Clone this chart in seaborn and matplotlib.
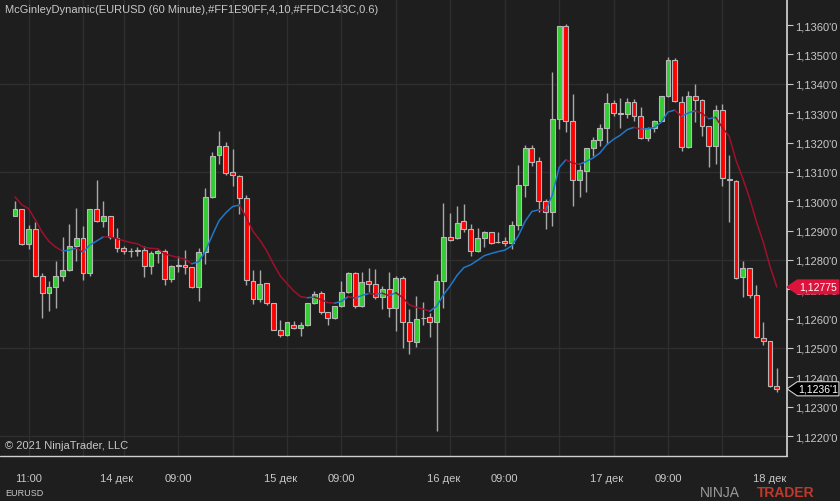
import numpy as np
import pandas as pd
import matplotlib
matplotlib.use("Agg")
import matplotlib.pyplot as plt
from matplotlib.patches import Polygon
import seaborn as sns

# ---- data (EURUSD 60 min) ----
opens = [1.12950,1.12974,1.12855,1.12906,1.12746,1.12688,1.12708,1.12746,1.12766,1.12848,
         1.12875,1.12756,1.12974,1.12933,1.12950,1.12875,1.12841,1.12831,1.12831,1.12834,
         1.12780,1.12824,1.12831,1.12735,1.12780,1.12783,1.12776,1.12708,1.12827,1.13015,
         1.13158,1.13188,1.13100,1.13086,1.13011,1.12729,1.12667,1.12722,1.12654,1.12562,
         1.12545,1.12579,1.12568,1.12579,1.12654,1.12688,1.12623,1.12603,1.12643,1.12691,
         1.12756,1.12643,1.12729,1.12718,1.12674,1.12701,1.12637,1.12739,1.12589,1.12521,
         1.12603,1.12606,1.12589,1.12729,1.12878,1.12875,1.12933,1.12906,1.12831,1.12875,
         1.12895,1.12861,1.12865,1.12858,1.12919,1.13056,1.13182,1.13137,1.13000,1.12964,
         1.13280,1.13597,1.13274,1.13073,1.13103,1.13182,1.13209,1.13250,1.13335,1.13301,
         1.13297,1.13338,1.13291,1.13216,1.13250,1.13274,1.13359,1.13481,1.13338,1.13185,
         1.13359,1.13345,1.13256,1.13188,1.13311,1.13076,1.13069,1.12742,1.12773,1.12681,
         1.12534,1.12524,1.12371]
highs = [1.13000,1.12974,1.12919,1.12930,1.12756,1.12729,1.12797,1.12878,1.12923,1.12977,
         1.12916,1.12974,1.13073,1.13000,1.12950,1.12909,1.12848,1.12841,1.12844,1.12848,
         1.12831,1.12838,1.12838,1.12783,1.12814,1.12834,1.12776,1.12841,1.13045,1.13168,
         1.13239,1.13202,1.13178,1.13090,1.13021,1.12766,1.12766,1.12722,1.12654,1.12596,
         1.12589,1.12592,1.12589,1.12654,1.12694,1.12694,1.12623,1.12643,1.12729,1.12759,
         1.12759,1.12759,1.12773,1.12769,1.12711,1.12759,1.12746,1.12746,1.12633,1.12677,
         1.12657,1.12620,1.12752,1.12994,1.12960,1.12984,1.12991,1.12923,1.12909,1.12899,
         1.12895,1.12895,1.12878,1.12933,1.13124,1.13192,1.13192,1.13151,1.13008,1.13440,
         1.13597,1.13604,1.13365,1.13124,1.13182,1.13219,1.13263,1.13369,1.13345,1.13352,
         1.13352,1.13348,1.13321,1.13253,1.13277,1.13359,1.13492,1.13488,1.13359,1.13376,
         1.13400,1.13348,1.13256,1.13328,1.13331,1.13158,1.13073,1.12797,1.12773,1.12715,
         1.12589,1.12524,1.12432]
lows = [1.12948,1.12851,1.12838,1.12742,1.12603,1.12626,1.12637,1.12729,1.12763,1.12797,
        1.12732,1.12746,1.12930,1.12912,1.12872,1.12827,1.12821,1.12810,1.12814,1.12742,
        1.12752,1.12790,1.12715,1.12725,1.12759,1.12752,1.12706,1.12660,1.12786,1.13011,
        1.13127,1.13090,1.13052,1.12957,1.12715,1.12650,1.12657,1.12647,1.12560,1.12538,
        1.12541,1.12565,1.12541,1.12575,1.12650,1.12616,1.12579,1.12599,1.12641,1.12688,
        1.12637,1.12640,1.12691,1.12667,1.12633,1.12606,1.12558,1.12500,1.12480,1.12504,
        1.12579,1.12538,1.12218,1.12637,1.12865,1.12872,1.12895,1.12814,1.12827,1.12844,
        1.12855,1.12858,1.12848,1.12838,1.12902,1.13015,1.13120,1.12964,1.12906,1.12916,
        1.13246,1.13236,1.12984,1.13015,1.13032,1.13154,1.13188,1.13195,1.13291,1.13250,
        1.13284,1.13274,1.13212,1.13205,1.13236,1.13270,1.13355,1.13338,1.13171,1.13182,
        1.13270,1.13222,1.13117,1.13127,1.13052,1.12930,1.12735,1.12674,1.12671,1.12534,
        1.12511,1.12368,1.12350]
closes = [1.12973,1.12855,1.12906,1.12746,1.12688,1.12708,1.12746,1.12766,1.12848,1.12875,
          1.12756,1.12974,1.12933,1.12950,1.12878,1.12841,1.12831,1.12829,1.12834,1.12780,
          1.12824,1.12831,1.12735,1.12780,1.12779,1.12776,1.12708,1.12827,1.13015,1.13154,
          1.13188,1.13096,1.13090,1.13011,1.12732,1.12667,1.12718,1.12654,1.12562,1.12545,
          1.12589,1.12568,1.12579,1.12654,1.12684,1.12623,1.12603,1.12643,1.12691,1.12756,
          1.12643,1.12725,1.12718,1.12674,1.12701,1.12637,1.12739,1.12589,1.12524,1.12599,
          1.12601,1.12589,1.12729,1.12878,1.12868,1.12926,1.12906,1.12831,1.12875,1.12895,
          1.12858,1.12860,1.12858,1.12919,1.13056,1.13182,1.13134,1.13000,1.12964,1.13280,
          1.13597,1.13274,1.13073,1.13107,1.13182,1.13209,1.13250,1.13335,1.13301,1.13297,
          1.13338,1.13291,1.13216,1.13250,1.13274,1.13359,1.13481,1.13342,1.13185,1.13359,
          1.13345,1.13256,1.13188,1.13311,1.13079,1.13073,1.12739,1.12773,1.12681,1.12538,
          1.12524,1.12371,1.12361]
md_start = 1.13015          # indicator value carried in from before the window
md_period, md_k = 10, 0.6

price_ticks = [1.1220 + 0.001 * k for k in range(15)]
grid_prices = [1.1220, 1.1250, 1.1280, 1.1310, 1.1340, 1.1370]
vgrid_bars = [2, 10, 16, 24, 32, 40, 48, 56, 64, 72, 80, 88, 96, 104]
tick_bars = [10, 32, 56, 80, 104]
label_bars = [2, 15, 24, 39, 48, 63, 72, 87, 96, 111]
time_labels = ["11:00", "14 дек", "09:00", "15 дек", "09:00", "16 дек", "09:00", "17 дек", "09:00", "18 дек"]
md_label, last_label = "1,12775", "1,1236'1"

# ---- styling ----
BG = "#1e1e1e"
GRID = "#2e2e2e"
TXT = "#c8c8c8"
UP, DOWN = "#32cd32", "#ff0000"
sns.set_theme(style="dark", rc={"axes.facecolor": BG, "figure.facecolor": BG})
plt.rcParams["font.family"] = ["Liberation Sans", "DejaVu Sans"]

df = pd.DataFrame({"o": opens, "h": highs, "l": lows, "c": closes})
df["i"] = np.arange(len(df))

fig = plt.figure(figsize=(8.4, 5.02), dpi=100)
ax = fig.add_axes([0, 1 - 457 / 502, 787 / 840, 457 / 502])
ax.set_facecolor(BG)
ax.set_xlim(-2.2, 113.5)
ax.set_ylim(1.12132, 1.13689)

for gp in grid_prices:
    ax.axhline(gp, color=GRID, lw=1, zorder=0)
for gb in vgrid_bars:
    ax.axvline(gb, color=GRID, lw=1, zorder=0)

# candles
ax.vlines(df["i"], df["l"], df["h"], color="#a8a8a8", lw=1, zorder=2)
body_lo = np.minimum(df["o"], df["c"])
body_h = np.maximum(np.abs(df["c"] - df["o"]), 0.000025)
cols = [UP if c > o else DOWN for o, c in zip(df["o"], df["c"])]
ax.bar(df["i"], body_h, bottom=body_lo, width=0.72, color=cols,
       edgecolor="#b8b8b8", linewidth=0.8, zorder=3)

# McGinley dynamic
md = [md_start]
for c in closes[1:]:
    prev = md[-1]
    md.append(prev + (c - prev) / (md_k * md_period * (c / prev) ** 4))
md = np.array(md)
rising = np.r_[False, np.diff(md) > 0]
rising[0] = rising[1]
start = 0
for j in range(1, len(md) + 1):
    if j == len(md) or rising[j] != rising[start]:
        seg = slice(max(start - 1, 0), j)
        color = "#1e78c8" if rising[start] else "#a0102c"
        sns.lineplot(x=df["i"].values[seg], y=md[seg], ax=ax, color=color, lw=1.1, zorder=4)
        start = j

# axes
for s in ["top", "left", "bottom"]:
    ax.spines[s].set_visible(False)
ax.spines["right"].set_visible(True)
ax.spines["right"].set_color("#d0d0d0")
ax.yaxis.tick_right()
ax.set_yticks(price_ticks)
ax.set_yticklabels([f"{p:.4f}".replace(".", ",") + "'0" for p in price_ticks])
ax.tick_params(axis="y", colors=TXT, labelsize=8, length=4, width=0.8, direction="out", pad=2)
ax.set_xticks(label_bars)
ax.set_xticklabels(time_labels)
ax.tick_params(axis="x", colors=TXT, labelsize=8, length=0, pad=12)
ax.set_xticks(tick_bars, minor=True)
ax.tick_params(axis="x", which="minor", length=4, color="#d0d0d0", width=0.8)
ax.grid(False)
ax.plot([-2.2, 113.5], [1.12132, 1.12132], color="#d0d0d0", lw=1, clip_on=False, zorder=5)

# price tags
def tag(price, text, face, edge, tcol):
    trans = ax.get_yaxis_transform()
    h = 0.00024
    pts = [(1.0, price), (1.013, price + h), (1.066, price + h), (1.066, price - h),
           (1.013, price - h)]
    ax.add_patch(Polygon(pts, closed=True, transform=trans, facecolor=face, edgecolor=edge,
                         lw=0.8, clip_on=False, zorder=10))
    ax.text(1.0395, price, text, transform=trans, color=tcol, fontsize=7.5, va="center",
            ha="center", zorder=11, clip_on=False)

tag(md[-1], md_label, "#dc143c", "#dc143c", "white")
tag(closes[-1], last_label, "black", "#d0d0d0", "white")

ax.text(0.006, 0.978, "McGinleyDynamic(EURUSD (60 Minute),#FF1E90FF,4,10,#FFDC143C,0.6)",
        transform=ax.transAxes, color=TXT, fontsize=8, va="center", ha="left")
ax.text(0.006, 1 - 446 / 457, "© 2021 NinjaTrader, LLC", transform=ax.transAxes,
        color=TXT, fontsize=8, va="center", ha="left")
fig.text(5 / 840, 1 - 494 / 502, "EURUSD", color=TXT, fontsize=6.5, va="center", ha="left")
fig.text(700 / 840, 1 - 493 / 502, "NINJA", color="#9a9a9a", fontsize=10, va="center", ha="left")
fig.text(757 / 840, 1 - 493 / 502, "TRADER", color="#c0392b", fontsize=10, va="center",
         ha="left", fontweight="bold")

fig.savefig("out.png", dpi=100, facecolor=BG)
